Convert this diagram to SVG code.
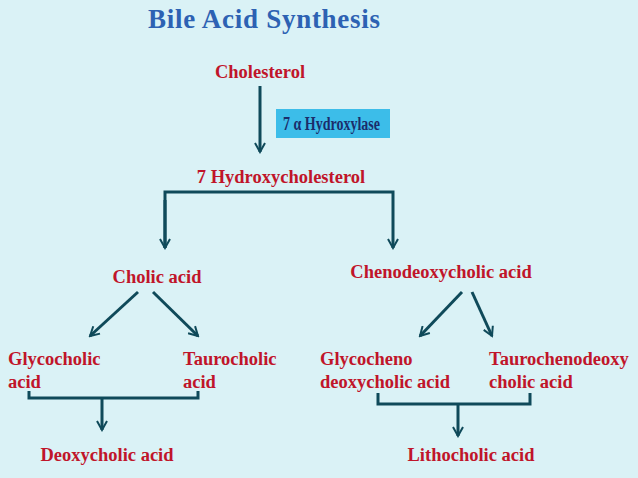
<svg xmlns="http://www.w3.org/2000/svg" width="638" height="478" viewBox="0 0 638 478">
<style>
.t{font-family:"Liberation Serif",serif;font-weight:bold;font-size:18.5px;fill:#c0152a}
.c{text-anchor:middle}
.ln{stroke:#0f4a5a;stroke-width:3;fill:none}
</style>
<defs><marker id="ah" viewBox="0 0 12 12" refX="10" refY="6" markerWidth="4" markerHeight="4" orient="auto" markerUnits="strokeWidth"><path d="M1,1 L10,6 L1,11" fill="none" stroke="#0f4a5a" stroke-width="2"/></marker></defs>
<rect width="638" height="478" fill="#daf2f6"/>
<text x="264" y="28" text-anchor="middle" font-family="'Liberation Serif',serif" font-weight="bold" font-size="27" fill="#2d62b3" textLength="232">Bile Acid Synthesis</text>
<g id="cholesterol"><text class="t c" x="260" y="78">Cholesterol</text></g>
<g id="enzyme"><rect x="276" y="109" width="114" height="29" fill="#3cbde9"/><text x="283" y="130" font-family="'Liberation Serif',serif" font-weight="bold" font-size="18" fill="#1b2d6b" textLength="97" lengthAdjust="spacingAndGlyphs">7 α Hydroxylase</text></g>
<g id="hydroxy"><text class="t c" x="281" y="183">7 Hydroxycholesterol</text></g>
<g id="cholic"><text class="t c" x="157" y="283">Cholic acid</text></g>
<g id="cheno"><text class="t c" x="441" y="278">Chenodeoxycholic acid</text></g>
<g id="glycocholic"><text class="t" x="8" y="365">Glycocholic</text><text class="t" x="8" y="388">acid</text></g>
<g id="taurocholic"><text class="t" x="183" y="365">Taurocholic</text><text class="t" x="183" y="388">acid</text></g>
<g id="glycocheno"><text class="t" x="320" y="365">Glycocheno</text><text class="t" x="320" y="388">deoxycholic acid</text></g>
<g id="taurocheno"><text class="t" x="489" y="365">Taurochenodeoxy</text><text class="t" x="489" y="388">cholic acid</text></g>
<g id="deoxy"><text class="t c" x="107" y="461">Deoxycholic acid</text></g>
<g id="litho"><text class="t c" x="471" y="461">Lithocholic acid</text></g>
<g id="connectors" class="ln">
<path class="ln" d="M260,86 V152" marker-end="url(#ah)"/>
<path class="ln" d="M165,248 V192 H393 V248" marker-end="url(#ah)"/>
<path class="ln" d="M165,200 V248" marker-end="url(#ah)"/>
<path class="ln" d="M138,292 L90,336" marker-end="url(#ah)"/>
<path class="ln" d="M153,292 L198,336" marker-end="url(#ah)"/>
<path class="ln" d="M462,292 L420,336" marker-end="url(#ah)"/>
<path class="ln" d="M472,292 L492,336" marker-end="url(#ah)"/>
<path class="ln" d="M29,391 V398 H198 V391"/>
<path class="ln" d="M102,398 V430" marker-end="url(#ah)"/>
<path class="ln" d="M378,393 V404 H530 V393"/>
<path class="ln" d="M458,404 V436" marker-end="url(#ah)"/>
</g>
</svg>
